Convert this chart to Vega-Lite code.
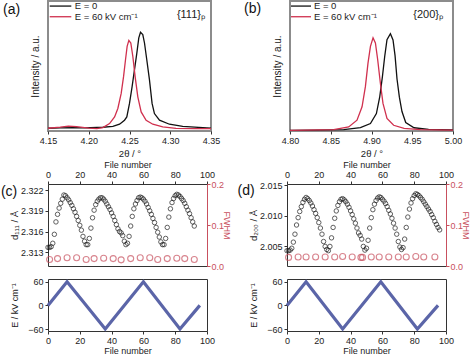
{
  "$schema": "https://vega.github.io/schema/vega-lite/v6.json",
  "padding": 0,
  "background": "white",
  "config": {
    "font": "Liberation Sans",
    "view": {"stroke": "#333333", "strokeWidth": 1},
    "axis": {"grid": false, "domain": false, "labelFontSize": 9, "titleFontSize": 9.5, "titleFontWeight": "normal", "labelColor": "#222222", "titleColor": "#222222", "tickColor": "#333333", "tickSize": 3, "labelPadding": 2, "labelFlush": false, "labelOverlap": false}
  },
  "datasets": {
    "specA": [
      {"two_theta": 4.150, "intensity": 0.021, "field": "E = 0"},
      {"two_theta": 4.165, "intensity": 0.024, "field": "E = 0"},
      {"two_theta": 4.180, "intensity": 0.026, "field": "E = 0"},
      {"two_theta": 4.195, "intensity": 0.024, "field": "E = 0"},
      {"two_theta": 4.210, "intensity": 0.027, "field": "E = 0"},
      {"two_theta": 4.2173, "intensity": 0.029, "field": "E = 0"},
      {"two_theta": 4.2296, "intensity": 0.036, "field": "E = 0"},
      {"two_theta": 4.2378, "intensity": 0.052, "field": "E = 0"},
      {"two_theta": 4.2439, "intensity": 0.083, "field": "E = 0"},
      {"two_theta": 4.2467, "intensity": 0.108, "field": "E = 0"},
      {"two_theta": 4.2500, "intensity": 0.212, "field": "E = 0"},
      {"two_theta": 4.2532, "intensity": 0.341, "field": "E = 0"},
      {"two_theta": 4.2561, "intensity": 0.470, "field": "E = 0"},
      {"two_theta": 4.2590, "intensity": 0.599, "field": "E = 0"},
      {"two_theta": 4.2614, "intensity": 0.716, "field": "E = 0"},
      {"two_theta": 4.2635, "intensity": 0.759, "field": "E = 0"},
      {"two_theta": 4.2663, "intensity": 0.741, "field": "E = 0"},
      {"two_theta": 4.2684, "intensity": 0.677, "field": "E = 0"},
      {"two_theta": 4.2712, "intensity": 0.548, "field": "E = 0"},
      {"two_theta": 4.2745, "intensity": 0.393, "field": "E = 0"},
      {"two_theta": 4.2777, "intensity": 0.212, "field": "E = 0"},
      {"two_theta": 4.2806, "intensity": 0.134, "field": "E = 0"},
      {"two_theta": 4.2868, "intensity": 0.083, "field": "E = 0"},
      {"two_theta": 4.2990, "intensity": 0.052, "field": "E = 0"},
      {"two_theta": 4.3153, "intensity": 0.036, "field": "E = 0"},
      {"two_theta": 4.3300, "intensity": 0.030, "field": "E = 0"},
      {"two_theta": 4.3500, "intensity": 0.021, "field": "E = 0"},
      {"two_theta": 4.150, "intensity": 0.021, "field": "E = 60 kV cm⁻¹"},
      {"two_theta": 4.165, "intensity": 0.030, "field": "E = 60 kV cm⁻¹"},
      {"two_theta": 4.175, "intensity": 0.038, "field": "E = 60 kV cm⁻¹"},
      {"two_theta": 4.185, "intensity": 0.034, "field": "E = 60 kV cm⁻¹"},
      {"two_theta": 4.200, "intensity": 0.022, "field": "E = 60 kV cm⁻¹"},
      {"two_theta": 4.210, "intensity": 0.018, "field": "E = 60 kV cm⁻¹"},
      {"two_theta": 4.2173, "intensity": 0.026, "field": "E = 60 kV cm⁻¹"},
      {"two_theta": 4.2255, "intensity": 0.057, "field": "E = 60 kV cm⁻¹"},
      {"two_theta": 4.2317, "intensity": 0.108, "field": "E = 60 kV cm⁻¹"},
      {"two_theta": 4.2357, "intensity": 0.173, "field": "E = 60 kV cm⁻¹"},
      {"two_theta": 4.2398, "intensity": 0.289, "field": "E = 60 kV cm⁻¹"},
      {"two_theta": 4.2427, "intensity": 0.418, "field": "E = 60 kV cm⁻¹"},
      {"two_theta": 4.2451, "intensity": 0.548, "field": "E = 60 kV cm⁻¹"},
      {"two_theta": 4.2471, "intensity": 0.651, "field": "E = 60 kV cm⁻¹"},
      {"two_theta": 4.2492, "intensity": 0.697, "field": "E = 60 kV cm⁻¹"},
      {"two_theta": 4.2516, "intensity": 0.677, "field": "E = 60 kV cm⁻¹"},
      {"two_theta": 4.2541, "intensity": 0.573, "field": "E = 60 kV cm⁻¹"},
      {"two_theta": 4.2569, "intensity": 0.418, "field": "E = 60 kV cm⁻¹"},
      {"two_theta": 4.2602, "intensity": 0.263, "field": "E = 60 kV cm⁻¹"},
      {"two_theta": 4.2643, "intensity": 0.147, "field": "E = 60 kV cm⁻¹"},
      {"two_theta": 4.2704, "intensity": 0.083, "field": "E = 60 kV cm⁻¹"},
      {"two_theta": 4.2786, "intensity": 0.052, "field": "E = 60 kV cm⁻¹"},
      {"two_theta": 4.2908, "intensity": 0.031, "field": "E = 60 kV cm⁻¹"},
      {"two_theta": 4.3071, "intensity": 0.020, "field": "E = 60 kV cm⁻¹"},
      {"two_theta": 4.3300, "intensity": 0.018, "field": "E = 60 kV cm⁻¹"},
      {"two_theta": 4.3500, "intensity": 0.018, "field": "E = 60 kV cm⁻¹"}
    ],
    "specB": [
      {"two_theta": 4.800, "intensity": 0.005, "field": "E = 0"},
      {"two_theta": 4.830, "intensity": 0.006, "field": "E = 0"},
      {"two_theta": 4.8659, "intensity": 0.010, "field": "E = 0"},
      {"two_theta": 4.8864, "intensity": 0.026, "field": "E = 0"},
      {"two_theta": 4.8987, "intensity": 0.057, "field": "E = 0"},
      {"two_theta": 4.9060, "intensity": 0.134, "field": "E = 0"},
      {"two_theta": 4.9101, "intensity": 0.263, "field": "E = 0"},
      {"two_theta": 4.9134, "intensity": 0.418, "field": "E = 0"},
      {"two_theta": 4.9162, "intensity": 0.573, "field": "E = 0"},
      {"two_theta": 4.9190, "intensity": 0.703, "field": "E = 0"},
      {"two_theta": 4.9232, "intensity": 0.749, "field": "E = 0"},
      {"two_theta": 4.9264, "intensity": 0.700, "field": "E = 0"},
      {"two_theta": 4.9289, "intensity": 0.580, "field": "E = 0"},
      {"two_theta": 4.9313, "intensity": 0.400, "field": "E = 0"},
      {"two_theta": 4.9342, "intensity": 0.260, "field": "E = 0"},
      {"two_theta": 4.9374, "intensity": 0.150, "field": "E = 0"},
      {"two_theta": 4.9420, "intensity": 0.065, "field": "E = 0"},
      {"two_theta": 4.9522, "intensity": 0.025, "field": "E = 0"},
      {"two_theta": 4.9700, "intensity": 0.012, "field": "E = 0"},
      {"two_theta": 5.000, "intensity": 0.008, "field": "E = 0"},
      {"two_theta": 4.800, "intensity": 0.005, "field": "E = 60 kV cm⁻¹"},
      {"two_theta": 4.8536, "intensity": 0.010, "field": "E = 60 kV cm⁻¹"},
      {"two_theta": 4.8720, "intensity": 0.031, "field": "E = 60 kV cm⁻¹"},
      {"two_theta": 4.8822, "intensity": 0.083, "field": "E = 60 kV cm⁻¹"},
      {"two_theta": 4.8884, "intensity": 0.186, "field": "E = 60 kV cm⁻¹"},
      {"two_theta": 4.8925, "intensity": 0.341, "field": "E = 60 kV cm⁻¹"},
      {"two_theta": 4.8957, "intensity": 0.522, "field": "E = 60 kV cm⁻¹"},
      {"two_theta": 4.8987, "intensity": 0.651, "field": "E = 60 kV cm⁻¹"},
      {"two_theta": 4.9019, "intensity": 0.716, "field": "E = 60 kV cm⁻¹"},
      {"two_theta": 4.9048, "intensity": 0.677, "field": "E = 60 kV cm⁻¹"},
      {"two_theta": 4.9076, "intensity": 0.548, "field": "E = 60 kV cm⁻¹"},
      {"two_theta": 4.9109, "intensity": 0.367, "field": "E = 60 kV cm⁻¹"},
      {"two_theta": 4.9141, "intensity": 0.212, "field": "E = 60 kV cm⁻¹"},
      {"two_theta": 4.9190, "intensity": 0.096, "field": "E = 60 kV cm⁻¹"},
      {"two_theta": 4.9272, "intensity": 0.044, "field": "E = 60 kV cm⁻¹"},
      {"two_theta": 4.9400, "intensity": 0.020, "field": "E = 60 kV cm⁻¹"},
      {"two_theta": 4.9600, "intensity": 0.010, "field": "E = 60 kV cm⁻¹"},
      {"two_theta": 5.000, "intensity": 0.006, "field": "E = 60 kV cm⁻¹"}
    ],
    "dC": [
      {"file": 0, "d": 2.3137}, {"file": 1, "d": 2.3137}, {"file": 2, "d": 2.3138}, {"file": 3, "d": 2.3143},
      {"file": 4, "d": 2.3156}, {"file": 5, "d": 2.3174}, {"file": 6, "d": 2.3185}, {"file": 7, "d": 2.3194},
      {"file": 8, "d": 2.3201}, {"file": 9, "d": 2.3207}, {"file": 10, "d": 2.3213}, {"file": 11, "d": 2.3212},
      {"file": 12, "d": 2.3209}, {"file": 13, "d": 2.3206}, {"file": 14, "d": 2.3202}, {"file": 15, "d": 2.3198},
      {"file": 16, "d": 2.3193}, {"file": 17, "d": 2.3188}, {"file": 18, "d": 2.3182}, {"file": 19, "d": 2.3176},
      {"file": 20, "d": 2.3169}, {"file": 21, "d": 2.3162}, {"file": 22, "d": 2.3153}, {"file": 23, "d": 2.3146},
      {"file": 24, "d": 2.3141}, {"file": 25, "d": 2.3141}, {"file": 26, "d": 2.3150}, {"file": 27, "d": 2.3165},
      {"file": 28, "d": 2.3180}, {"file": 29, "d": 2.3191}, {"file": 30, "d": 2.3199}, {"file": 31, "d": 2.3204},
      {"file": 32, "d": 2.3207}, {"file": 33, "d": 2.3209}, {"file": 34, "d": 2.3209}, {"file": 35, "d": 2.3207},
      {"file": 36, "d": 2.3204}, {"file": 37, "d": 2.3200}, {"file": 38, "d": 2.3196}, {"file": 39, "d": 2.3192},
      {"file": 40, "d": 2.3187}, {"file": 41, "d": 2.3182}, {"file": 42, "d": 2.3176}, {"file": 43, "d": 2.3170},
      {"file": 44, "d": 2.3164}, {"file": 45, "d": 2.3160}, {"file": 46, "d": 2.3158}, {"file": 47, "d": 2.3154},
      {"file": 48, "d": 2.3146}, {"file": 49, "d": 2.3141}, {"file": 50, "d": 2.3143}, {"file": 51, "d": 2.3153},
      {"file": 52, "d": 2.3168}, {"file": 53, "d": 2.3182}, {"file": 54, "d": 2.3193}, {"file": 55, "d": 2.3200},
      {"file": 56, "d": 2.3205}, {"file": 57, "d": 2.3209}, {"file": 58, "d": 2.3210}, {"file": 59, "d": 2.3209},
      {"file": 60, "d": 2.3207}, {"file": 61, "d": 2.3204}, {"file": 62, "d": 2.3200}, {"file": 63, "d": 2.3195},
      {"file": 64, "d": 2.3190}, {"file": 65, "d": 2.3185}, {"file": 66, "d": 2.3179}, {"file": 67, "d": 2.3173},
      {"file": 68, "d": 2.3166}, {"file": 69, "d": 2.3159}, {"file": 70, "d": 2.3152}, {"file": 71, "d": 2.3145},
      {"file": 72, "d": 2.3141}, {"file": 73, "d": 2.3141}, {"file": 74, "d": 2.3150}, {"file": 75, "d": 2.3166},
      {"file": 76, "d": 2.3181}, {"file": 77, "d": 2.3193}, {"file": 78, "d": 2.3202}, {"file": 79, "d": 2.3208},
      {"file": 80, "d": 2.3212}, {"file": 81, "d": 2.3214}, {"file": 82, "d": 2.3213}, {"file": 83, "d": 2.3211},
      {"file": 84, "d": 2.3208}, {"file": 85, "d": 2.3205}, {"file": 86, "d": 2.3201}, {"file": 87, "d": 2.3196},
      {"file": 88, "d": 2.3191}, {"file": 89, "d": 2.3186}, {"file": 90, "d": 2.3180}, {"file": 91, "d": 2.3174},
      {"file": 92, "d": 2.3168}
    ],
    "dD": [
      {"file": 0, "d": 2.0043}, {"file": 1, "d": 2.0043}, {"file": 2, "d": 2.0044}, {"file": 3, "d": 2.0047},
      {"file": 4, "d": 2.0057}, {"file": 5, "d": 2.0070}, {"file": 6, "d": 2.0085}, {"file": 7, "d": 2.0097},
      {"file": 8, "d": 2.0107}, {"file": 9, "d": 2.0115}, {"file": 10, "d": 2.0122}, {"file": 11, "d": 2.0127},
      {"file": 12, "d": 2.0130}, {"file": 13, "d": 2.0128}, {"file": 14, "d": 2.0125}, {"file": 15, "d": 2.0121},
      {"file": 16, "d": 2.0116}, {"file": 17, "d": 2.0110}, {"file": 18, "d": 2.0104}, {"file": 19, "d": 2.0097},
      {"file": 20, "d": 2.0089}, {"file": 21, "d": 2.0080}, {"file": 22, "d": 2.0070}, {"file": 23, "d": 2.0058},
      {"file": 24, "d": 2.0050}, {"file": 25, "d": 2.0045}, {"file": 26, "d": 2.0043}, {"file": 27, "d": 2.0050},
      {"file": 28, "d": 2.0064}, {"file": 29, "d": 2.0081}, {"file": 30, "d": 2.0096}, {"file": 31, "d": 2.0108},
      {"file": 32, "d": 2.0117}, {"file": 33, "d": 2.0123}, {"file": 34, "d": 2.0127}, {"file": 35, "d": 2.0128},
      {"file": 36, "d": 2.0126}, {"file": 37, "d": 2.0123}, {"file": 38, "d": 2.0119}, {"file": 39, "d": 2.0114},
      {"file": 40, "d": 2.0108}, {"file": 41, "d": 2.0102}, {"file": 42, "d": 2.0095}, {"file": 43, "d": 2.0088},
      {"file": 44, "d": 2.0080}, {"file": 45, "d": 2.0072}, {"file": 46, "d": 2.0068}, {"file": 47, "d": 2.0062},
      {"file": 48, "d": 2.0050}, {"file": 49, "d": 2.0044}, {"file": 50, "d": 2.0047}, {"file": 51, "d": 2.0060},
      {"file": 52, "d": 2.0080}, {"file": 53, "d": 2.0097}, {"file": 54, "d": 2.0110}, {"file": 55, "d": 2.0119},
      {"file": 56, "d": 2.0125}, {"file": 57, "d": 2.0129}, {"file": 58, "d": 2.0131}, {"file": 59, "d": 2.0130},
      {"file": 60, "d": 2.0127}, {"file": 61, "d": 2.0124}, {"file": 62, "d": 2.0120}, {"file": 63, "d": 2.0115},
      {"file": 64, "d": 2.0109}, {"file": 65, "d": 2.0103}, {"file": 66, "d": 2.0096}, {"file": 67, "d": 2.0088},
      {"file": 68, "d": 2.0080}, {"file": 69, "d": 2.0070}, {"file": 70, "d": 2.0058}, {"file": 71, "d": 2.0049},
      {"file": 72, "d": 2.0045}, {"file": 73, "d": 2.0048}, {"file": 74, "d": 2.0062}, {"file": 75, "d": 2.0081},
      {"file": 76, "d": 2.0098}, {"file": 77, "d": 2.0111}, {"file": 78, "d": 2.0121}, {"file": 79, "d": 2.0128},
      {"file": 80, "d": 2.0133}, {"file": 81, "d": 2.0136}, {"file": 82, "d": 2.0135}, {"file": 83, "d": 2.0133},
      {"file": 84, "d": 2.0130}, {"file": 85, "d": 2.0127}, {"file": 86, "d": 2.0123}, {"file": 87, "d": 2.0119},
      {"file": 88, "d": 2.0115}, {"file": 89, "d": 2.0111}, {"file": 90, "d": 2.0107}, {"file": 91, "d": 2.0102},
      {"file": 92, "d": 2.0097}, {"file": 93, "d": 2.0091}, {"file": 94, "d": 2.0086}, {"file": 95, "d": 2.0081},
      {"file": 96, "d": 2.0077}
    ],
    "fwhmC": [
      {"file": 1, "fwhm": 0.016}, {"file": 6, "fwhm": 0.018}, {"file": 12, "fwhm": 0.020}, {"file": 18, "fwhm": 0.020},
      {"file": 24, "fwhm": 0.016}, {"file": 29, "fwhm": 0.018}, {"file": 35, "fwhm": 0.019}, {"file": 41, "fwhm": 0.018},
      {"file": 46, "fwhm": 0.015}, {"file": 52, "fwhm": 0.018}, {"file": 58, "fwhm": 0.020}, {"file": 64, "fwhm": 0.020},
      {"file": 69, "fwhm": 0.016}, {"file": 75, "fwhm": 0.018}, {"file": 81, "fwhm": 0.019}, {"file": 86, "fwhm": 0.018},
      {"file": 92, "fwhm": 0.016}
    ],
    "fwhmD": [
      {"file": 1, "fwhm": 0.021}, {"file": 7, "fwhm": 0.022}, {"file": 12, "fwhm": 0.022}, {"file": 18, "fwhm": 0.022},
      {"file": 24, "fwhm": 0.022}, {"file": 30, "fwhm": 0.022}, {"file": 35, "fwhm": 0.023}, {"file": 41, "fwhm": 0.022},
      {"file": 46.5, "fwhm": 0.021}, {"file": 47.5, "fwhm": 0.021}, {"file": 53, "fwhm": 0.022}, {"file": 58, "fwhm": 0.022},
      {"file": 64, "fwhm": 0.022}, {"file": 70, "fwhm": 0.022}, {"file": 75, "fwhm": 0.022}, {"file": 81, "fwhm": 0.023},
      {"file": 86, "fwhm": 0.022}, {"file": 93, "fwhm": 0.022}
    ],
    "eC": [
      {"file": 0, "E": 0}, {"file": 12, "E": 60}, {"file": 36, "E": -60}, {"file": 60, "E": 60}, {"file": 83, "E": -60}, {"file": 95.5, "E": 0}
    ],
    "eD": [
      {"file": 0, "E": 0}, {"file": 12, "E": 60}, {"file": 35, "E": -60}, {"file": 59, "E": 60}, {"file": 82, "E": -60}, {"file": 95, "E": 0}
    ]
  },
  "vconcat": [
    {
      "hconcat": [
        {
          "width": 163, "height": 130,
          "view": {"stroke": "#8c8c8c", "strokeWidth": 2},
          "layer": [
            {
              "data": {"name": "specA"},
              "mark": {"type": "line", "strokeWidth": 1.3},
              "encoding": {
                "x": {"field": "two_theta", "type": "quantitative", "scale": {"domain": [4.15, 4.35], "nice": false, "zero": false}, "axis": {"values": [4.15, 4.2, 4.25, 4.3, 4.35], "format": ".2f", "title": "2θ / °", "titlePadding": 3, "labelOverlap": false}},
                "y": {"field": "intensity", "type": "quantitative", "scale": {"domain": [0, 1], "nice": false}, "axis": {"labels": false, "ticks": false, "title": "Intensity / a.u.", "titleFontSize": 10, "titlePadding": 8, "minExtent": 0, "maxExtent": 0}},
                "color": {"field": "field", "type": "nominal", "scale": {"domain": ["E = 0", "E = 60 kV cm⁻¹"], "range": ["#111111", "#d0304e"]}, "legend": null}
              }
            },
            {"data": {"values": [{}]}, "mark": {"type": "rule", "color": "#111111", "strokeWidth": 1.3}, "encoding": {"x": {"datum": 4.1521}, "x2": {"datum": 4.1786}, "y": {"datum": 0.961}}},
            {"data": {"values": [{}]}, "mark": {"type": "rule", "color": "#d0304e", "strokeWidth": 1.3}, "encoding": {"x": {"datum": 4.1521}, "x2": {"datum": 4.1786}, "y": {"datum": 0.879}}},
            {"data": {"values": [{}]}, "mark": {"type": "text", "align": "left", "baseline": "middle", "fontSize": 9.5, "color": "#222222"}, "encoding": {"x": {"datum": 4.1828}, "y": {"datum": 0.961}, "text": {"value": "E = 0"}}},
            {"data": {"values": [{}]}, "mark": {"type": "text", "align": "left", "baseline": "middle", "fontSize": 9.5, "color": "#222222"}, "encoding": {"x": {"datum": 4.1828}, "y": {"datum": 0.879}, "text": {"value": "E = 60 kV cm⁻¹"}}},
            {"data": {"values": [{}]}, "mark": {"type": "text", "align": "right", "baseline": "middle", "fontSize": 11, "color": "#222222"}, "encoding": {"x": {"datum": 4.3426}, "y": {"datum": 0.892}, "text": {"value": "{111}ₚ"}}},
            {"data": {"values": [{}]}, "mark": {"type": "text", "align": "left", "baseline": "middle", "fontSize": 14, "color": "#111111"}, "encoding": {"x": {"datum": 4.0948}, "y": {"datum": 0.931}, "text": {"value": "(a)"}}}
          ]
        },
        {
          "width": 163, "height": 130,
          "view": {"stroke": "#8c8c8c", "strokeWidth": 2},
          "layer": [
            {
              "data": {"name": "specB"},
              "mark": {"type": "line", "strokeWidth": 1.3},
              "encoding": {
                "x": {"field": "two_theta", "type": "quantitative", "scale": {"domain": [4.8, 5.0], "nice": false, "zero": false}, "axis": {"values": [4.8, 4.85, 4.9, 4.95, 5.0], "format": ".2f", "title": "2θ / °", "titlePadding": 3, "labelOverlap": false}},
                "y": {"field": "intensity", "type": "quantitative", "scale": {"domain": [0, 1], "nice": false}, "axis": {"labels": false, "ticks": false, "title": "Intensity / a.u.", "titleFontSize": 10, "titlePadding": 8, "minExtent": 0, "maxExtent": 0}},
                "color": {"field": "field", "type": "nominal", "scale": {"domain": ["E = 0", "E = 60 kV cm⁻¹"], "range": ["#111111", "#d0304e"]}, "legend": null}
              }
            },
            {"data": {"values": [{}]}, "mark": {"type": "rule", "color": "#111111", "strokeWidth": 1.3}, "encoding": {"x": {"datum": 4.8012}, "x2": {"datum": 4.8258}, "y": {"datum": 0.961}}},
            {"data": {"values": [{}]}, "mark": {"type": "rule", "color": "#d0304e", "strokeWidth": 1.3}, "encoding": {"x": {"datum": 4.8012}, "x2": {"datum": 4.8258}, "y": {"datum": 0.879}}},
            {"data": {"values": [{}]}, "mark": {"type": "text", "align": "left", "baseline": "middle", "fontSize": 9.5, "color": "#222222"}, "encoding": {"x": {"datum": 4.8294}, "y": {"datum": 0.961}, "text": {"value": "E = 0"}}},
            {"data": {"values": [{}]}, "mark": {"type": "text", "align": "left", "baseline": "middle", "fontSize": 9.5, "color": "#222222"}, "encoding": {"x": {"datum": 4.8294}, "y": {"datum": 0.879}, "text": {"value": "E = 60 kV cm⁻¹"}}},
            {"data": {"values": [{}]}, "mark": {"type": "text", "align": "right", "baseline": "middle", "fontSize": 11, "color": "#222222"}, "encoding": {"x": {"datum": 4.9877}, "y": {"datum": 0.892}, "text": {"value": "{200}ₚ"}}},
            {"data": {"values": [{}]}, "mark": {"type": "text", "align": "left", "baseline": "middle", "fontSize": 14, "color": "#111111"}, "encoding": {"x": {"datum": 4.7436}, "y": {"datum": 0.935}, "text": {"value": "(b)"}}}
          ]
        }
      ],
      "spacing": 22
    },
    {
      "hconcat": [
        {
          "vconcat": [
            {
              "width": 159, "height": 82,
              "resolve": {"scale": {"y": "independent"}},
              "layer": [
                {
                  "layer": [
                    {
                      "data": {"name": "dC"},
                      "mark": {"type": "point", "shape": "circle", "filled": false, "size": 20, "strokeWidth": 1, "color": "#1a1a1a"},
                      "encoding": {
                        "x": {"field": "file", "type": "quantitative", "scale": {"domain": [0, 100], "nice": false}, "axis": {"orient": "top", "values": [0, 20, 40, 60, 80, 100], "title": "File number", "titleFontSize": 9, "titlePadding": 1, "labelOverlap": false}},
                        "y": {"field": "d", "type": "quantitative", "scale": {"domain": [2.311, 2.3229], "zero": false, "nice": false}, "axis": {"values": [2.313, 2.316, 2.319, 2.322], "format": ".3f", "title": "d₁₁₁ / Å", "minExtent": 24, "maxExtent": 24, "titlePadding": 5, "labelOverlap": false}}
                      }
                    },
                    {"data": {"values": [{}]}, "mark": {"type": "text", "align": "left", "baseline": "middle", "fontSize": 14, "color": "#111111"}, "encoding": {"x": {"datum": -29.6, "axis": {"orient": "top", "values": [0, 20, 40, 60, 80, 100], "title": "File number", "titleFontSize": 9, "titlePadding": 1, "labelOverlap": false}}, "y": {"datum": 2.32175, "axis": {"values": [2.313, 2.316, 2.319, 2.322], "format": ".3f", "title": "d₁₁₁ / Å", "minExtent": 24, "maxExtent": 24, "titlePadding": 5, "labelOverlap": false}}, "text": {"value": "(c)"}}}
                  ]
                },
                {
                  "data": {"name": "fwhmC"},
                  "mark": {"type": "point", "shape": "circle", "filled": false, "size": 36, "strokeWidth": 1.1, "color": "#c8505e"},
                  "encoding": {
                    "x": {"field": "file", "type": "quantitative", "axis": {"orient": "top", "values": [0, 20, 40, 60, 80, 100], "title": "File number", "titleFontSize": 9, "titlePadding": 1, "labelOverlap": false}},
                    "y": {"field": "fwhm", "type": "quantitative", "scale": {"domain": [0, 0.2], "nice": false}, "axis": {"orient": "right", "values": [0, 0.1, 0.2], "format": ".1f", "title": "FWHM", "titleFontSize": 9, "labelColor": "#c8505e", "titleColor": "#c8505e", "tickColor": "#c8505e", "domain": true, "domainColor": "#c8505e", "minExtent": 13, "maxExtent": 13, "titlePadding": 1, "labelPadding": 1}}
                  }
                }
              ]
            },
            {
              "width": 159, "height": 52,
              "data": {"name": "eC"},
              "mark": {"type": "line", "strokeWidth": 3.2, "color": "#5b65a8"},
              "encoding": {
                "x": {"field": "file", "type": "quantitative", "scale": {"domain": [0, 100], "nice": false}, "axis": {"values": [0, 20, 40, 60, 80, 100], "title": "File number", "titleFontSize": 9, "titlePadding": 1, "labelOverlap": false}},
                "y": {"field": "E", "type": "quantitative", "scale": {"domain": [-65, 67], "nice": false}, "axis": {"values": [-60, 0, 60], "title": "E / kV cm⁻¹", "titleFontSize": 9, "minExtent": 24, "maxExtent": 24, "titlePadding": 5, "labelOverlap": false}}
              }
            }
          ],
          "spacing": 2
        },
        {
          "vconcat": [
            {
              "width": 159, "height": 82,
              "resolve": {"scale": {"y": "independent"}},
              "layer": [
                {
                  "layer": [
                    {
                      "data": {"name": "dD"},
                      "mark": {"type": "point", "shape": "circle", "filled": false, "size": 20, "strokeWidth": 1, "color": "#1a1a1a"},
                      "encoding": {
                        "x": {"field": "file", "type": "quantitative", "scale": {"domain": [0, 100], "nice": false}, "axis": {"orient": "top", "values": [0, 20, 40, 60, 80, 100], "title": "File number", "titleFontSize": 9, "titlePadding": 1, "labelOverlap": false}},
                        "y": {"field": "d", "type": "quantitative", "scale": {"domain": [2.0018, 2.0152], "zero": false, "nice": false}, "axis": {"values": [2.005, 2.01, 2.015], "format": ".3f", "title": "d₂₀₀ / Å", "minExtent": 24, "maxExtent": 24, "titlePadding": 5, "labelOverlap": false}}
                      }
                    },
                    {"data": {"values": [{}]}, "mark": {"type": "text", "align": "left", "baseline": "middle", "fontSize": 14, "color": "#111111"}, "encoding": {"x": {"datum": -31.1, "axis": {"orient": "top", "values": [0, 20, 40, 60, 80, 100], "title": "File number", "titleFontSize": 9, "titlePadding": 1, "labelOverlap": false}}, "y": {"datum": 2.01407, "axis": {"values": [2.005, 2.01, 2.015], "format": ".3f", "title": "d₂₀₀ / Å", "minExtent": 24, "maxExtent": 24, "titlePadding": 5, "labelOverlap": false}}, "text": {"value": "(d)"}}}
                  ]
                },
                {
                  "data": {"name": "fwhmD"},
                  "mark": {"type": "point", "shape": "circle", "filled": false, "size": 36, "strokeWidth": 1.1, "color": "#c8505e"},
                  "encoding": {
                    "x": {"field": "file", "type": "quantitative", "axis": {"orient": "top", "values": [0, 20, 40, 60, 80, 100], "title": "File number", "titleFontSize": 9, "titlePadding": 1, "labelOverlap": false}},
                    "y": {"field": "fwhm", "type": "quantitative", "scale": {"domain": [0, 0.2], "nice": false}, "axis": {"orient": "right", "values": [0, 0.1, 0.2], "format": ".1f", "title": "FWHM", "titleFontSize": 9, "labelColor": "#c8505e", "titleColor": "#c8505e", "tickColor": "#c8505e", "domain": true, "domainColor": "#c8505e", "minExtent": 13, "maxExtent": 13, "titlePadding": 1, "labelPadding": 1}}
                  }
                }
              ]
            },
            {
              "width": 159, "height": 52,
              "data": {"name": "eD"},
              "mark": {"type": "line", "strokeWidth": 3.2, "color": "#5b65a8"},
              "encoding": {
                "x": {"field": "file", "type": "quantitative", "scale": {"domain": [0, 100], "nice": false}, "axis": {"values": [0, 20, 40, 60, 80, 100], "title": "File number", "titleFontSize": 9, "titlePadding": 1, "labelOverlap": false}},
                "y": {"field": "E", "type": "quantitative", "scale": {"domain": [-65, 67], "nice": false}, "axis": {"values": [-60, 0, 60], "title": "E / kV cm⁻¹", "titleFontSize": 9, "minExtent": 24, "maxExtent": 24, "titlePadding": 5, "labelOverlap": false}}
              }
            }
          ],
          "spacing": 2
        }
      ],
      "spacing": 6
    }
  ],
  "spacing": 0
}
